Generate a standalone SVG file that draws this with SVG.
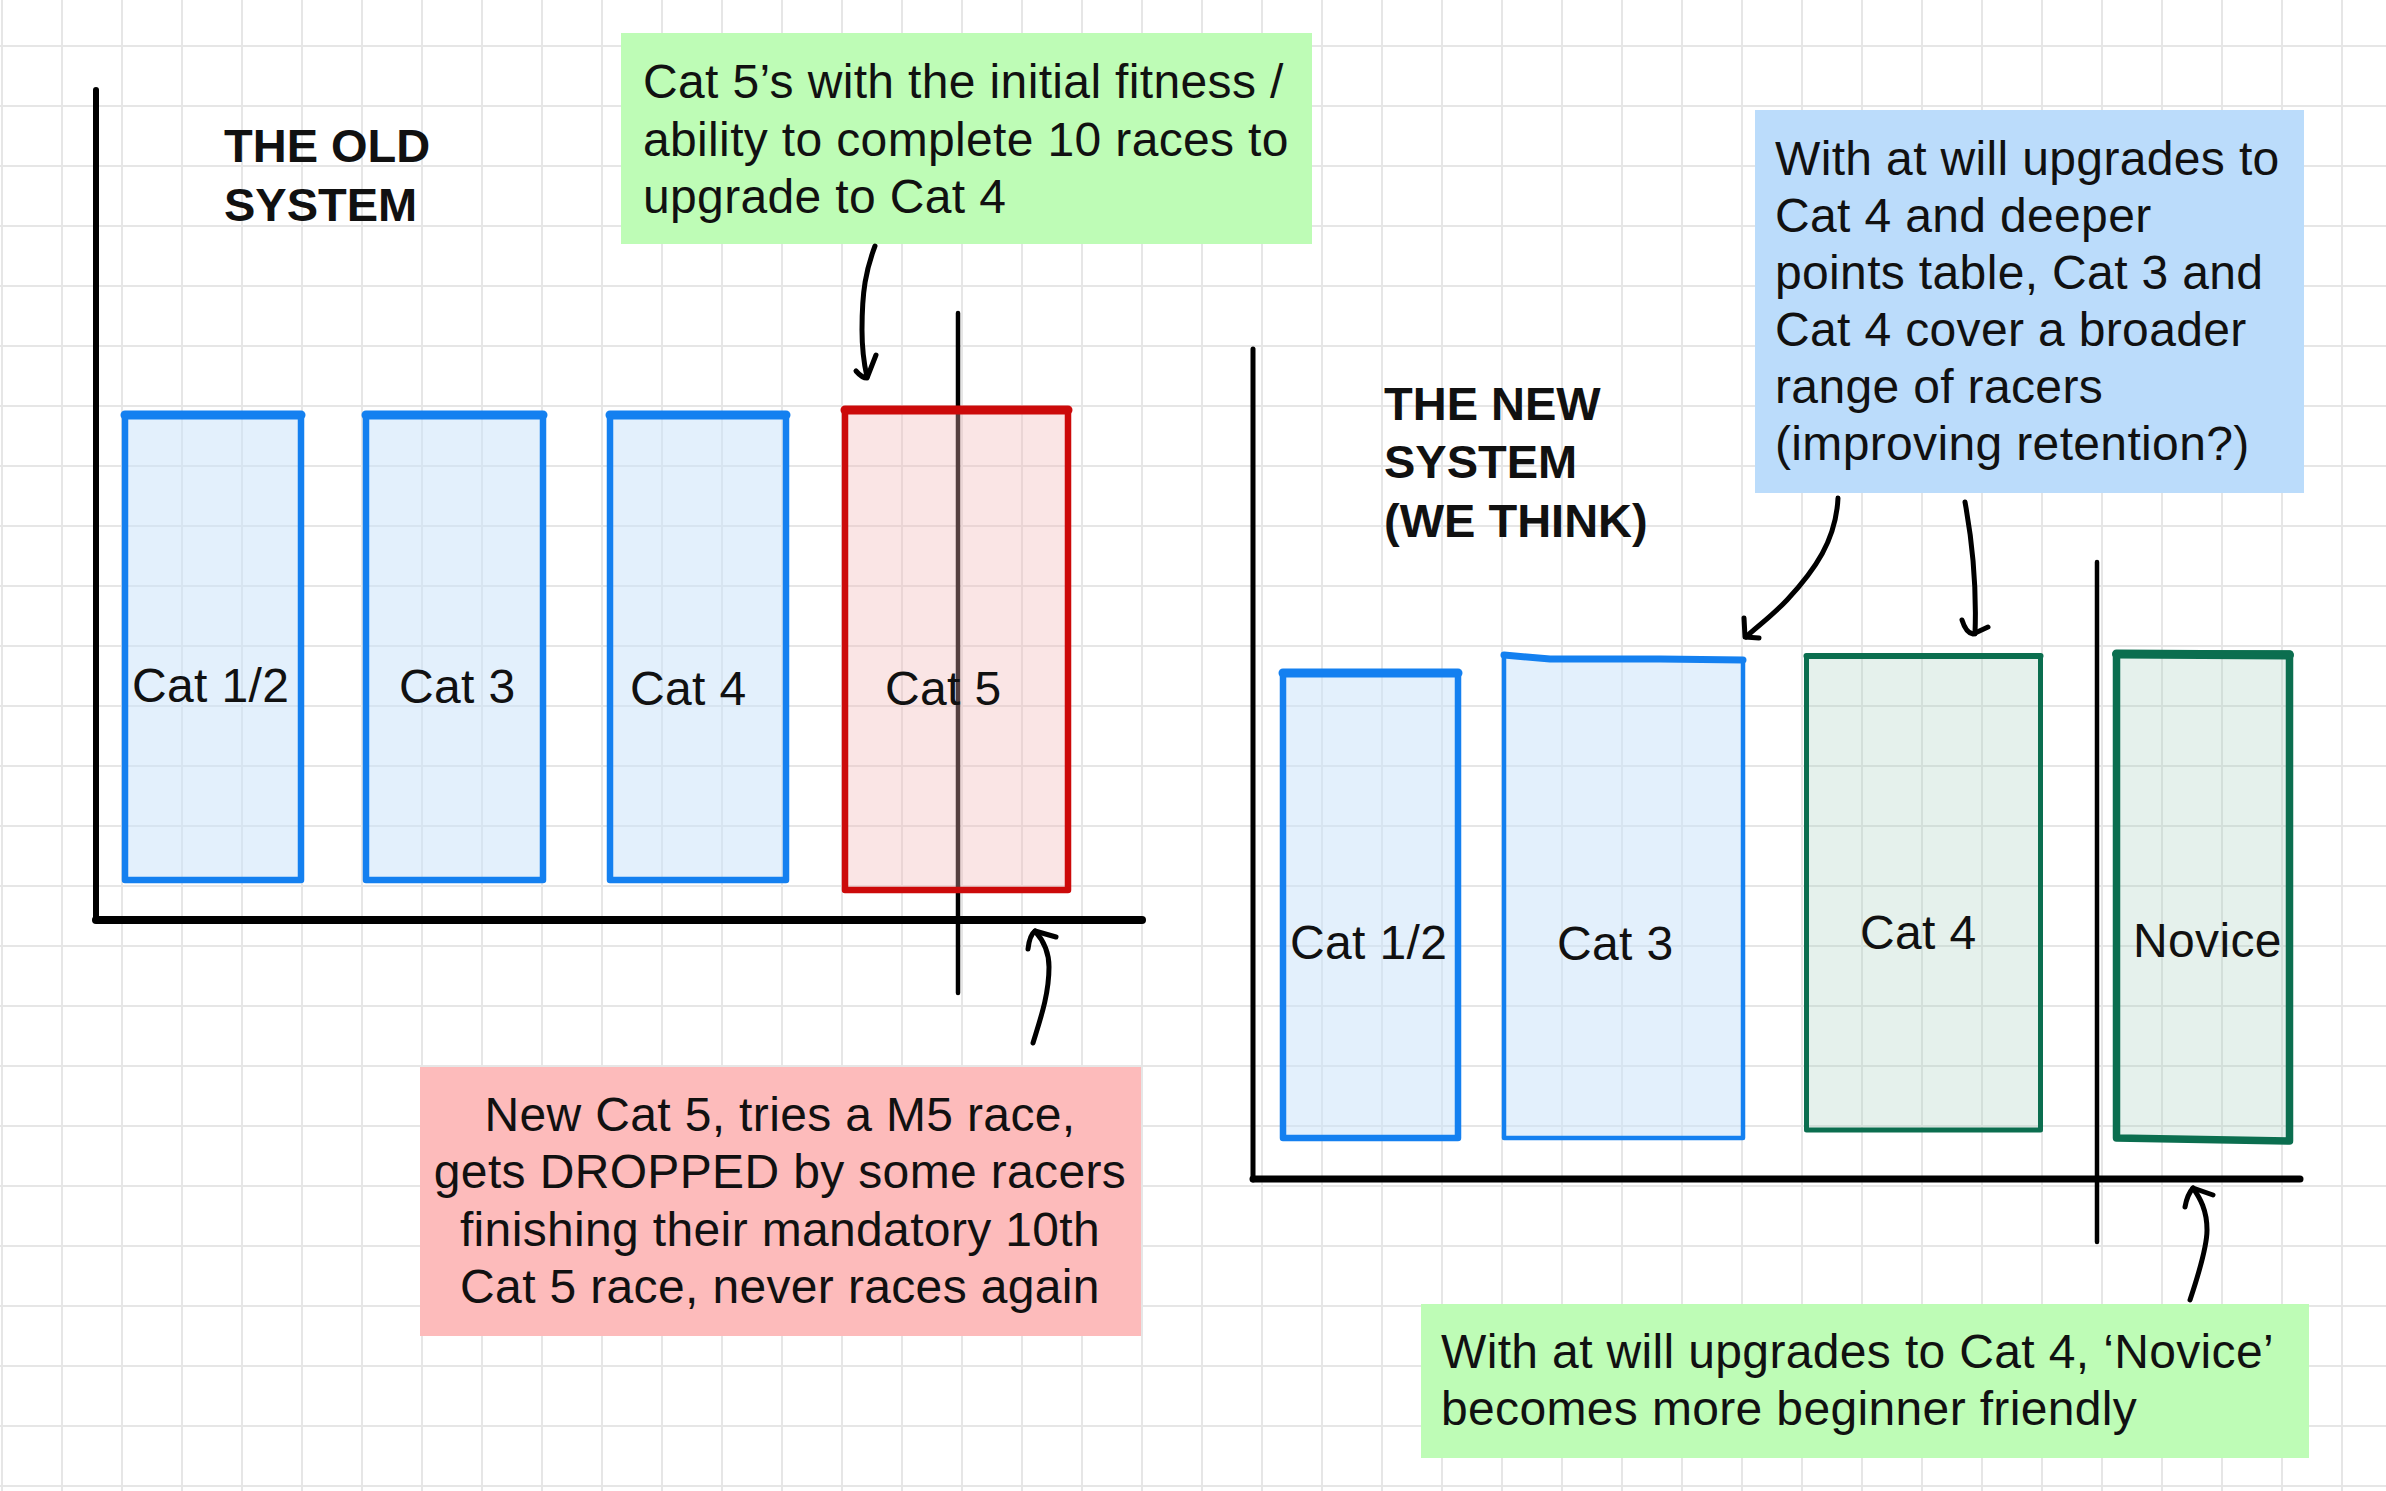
<svg xmlns="http://www.w3.org/2000/svg" width="2386" height="1491" viewBox="0 0 2386 1491">
<defs>
<pattern id="grid" x="1" y="45" width="60" height="60" patternUnits="userSpaceOnUse">
<rect x="0" y="0" width="2" height="60" fill="#e6e6e6"/>
<rect x="0" y="0" width="60" height="2" fill="#e6e6e6"/>
</pattern>
<style>
.t{font-family:"Liberation Sans",Arial,Helvetica,sans-serif;font-size:48px;fill:#111;letter-spacing:0.35px}
.h{font-family:"Liberation Sans",Arial,Helvetica,sans-serif;font-size:47px;font-weight:bold;fill:#111}
.c{text-anchor:middle}
.blue{fill:rgb(200,225,250);fill-opacity:0.5;stroke:#1480f0;stroke-width:6.5;stroke-linejoin:round}
.red{fill:rgb(240,180,180);fill-opacity:0.35;stroke:#cc0a0a;stroke-width:6.5;stroke-linejoin:round}
.green{fill:rgb(160,205,185);fill-opacity:0.28;stroke:#0b6e4f;stroke-width:5;stroke-linejoin:round}
.topb{fill:none;stroke:#1480f0;stroke-width:9;stroke-linecap:round}
.topr{fill:none;stroke:#cc0a0a;stroke-width:9;stroke-linecap:round}
.topg{fill:none;stroke:#0b6e4f;stroke-width:9;stroke-linecap:round}
.ax{fill:none;stroke:#000;stroke-linecap:round}
.arr{fill:none;stroke:#000;stroke-width:5;stroke-linecap:round;stroke-linejoin:round}
</style>
</defs>
<rect x="0" y="0" width="2386" height="1491" fill="#ffffff"/>
<rect x="0" y="0" width="2386" height="1491" fill="url(#grid)"/>

<g id="axes">
<path class="ax" d="M96,90 L96,920" style="stroke-width:6"/>
<path class="ax" d="M96,920 L1142,920" style="stroke-width:8"/>
<path class="ax" d="M958,313 L958,993" style="stroke-width:4.5"/>
<path class="ax" d="M1253,349 L1253,1180" style="stroke-width:5"/>
<path class="ax" d="M1253,1179 L2300,1179" style="stroke-width:7"/>
<path class="ax" d="M2097,562 L2097,1242" style="stroke-width:4.5"/>
</g>

<g id="title-old">
<text class="h" x="224" y="162">THE OLD</text>
<text class="h" x="224" y="221">SYSTEM</text>
</g>
<g id="title-new">
<text class="h" x="1384" y="420">THE NEW</text>
<text class="h" x="1384" y="478">SYSTEM</text>
<text class="h" x="1384" y="537">(WE THINK)</text>
</g>

<g id="old-cat12">
<rect class="blue" x="125" y="415" width="176" height="465"/>
<path class="topb" d="M125,415 L301,415"/>
<text class="t" x="132" y="702">Cat 1/2</text>
</g>
<g id="old-cat3">
<rect class="blue" x="366" y="415" width="177" height="465"/>
<path class="topb" d="M366,415 L543,415"/>
<text class="t" x="399" y="703">Cat 3</text>
</g>
<g id="old-cat4">
<rect class="blue" x="610" y="415" width="176" height="465"/>
<path class="topb" d="M610,415 L786,415"/>
<text class="t" x="630" y="705">Cat 4</text>
</g>
<g id="old-cat5">
<rect class="red" x="845" y="410" width="223" height="480"/>
<path class="topr" d="M845,410 L1068,410"/>
<text class="t" x="885" y="705">Cat 5</text>
</g>

<g id="new-cat12">
<rect class="blue" x="1283" y="673" width="175" height="465"/>
<path class="topb" d="M1283,673 L1458,673"/>
<text class="t" x="1290" y="959">Cat 1/2</text>
</g>
<g id="new-cat3">
<path class="blue" style="stroke-width:4.5" d="M1504,655 L1550,659 L1660,659 L1743,660 L1743,1138 L1504,1138 Z"/>
<path class="topb" style="stroke-width:7" d="M1504,655 L1550,659 L1660,659 L1743,660"/>
<text class="t" x="1557" y="960">Cat 3</text>
</g>
<g id="new-cat4">
<rect class="green" x="1806.5" y="656" width="234" height="474"/>
<path class="topg" style="stroke-width:6" d="M1806.5,656 L2040.5,656"/>
<text class="t" x="1860" y="949">Cat 4</text>
</g>
<g id="new-novice">
<path class="green" style="stroke-width:7.5" d="M2116.5,654 L2289.5,654 L2289.5,1141 L2116.5,1138 Z"/>
<path class="topg" d="M2116.5,654 L2289.5,655"/>
<text class="t" x="2133" y="957">Novice</text>
</g>

<g id="note-fitness">
<rect x="621" y="33" width="691" height="211" fill="#befcb6"/>
<text class="t" x="643" y="98">Cat 5’s with the initial fitness /</text>
<text class="t" x="643" y="156">ability to complete 10 races to</text>
<text class="t" x="643" y="213">upgrade to Cat 4</text>
</g>
<g id="note-dropped">
<rect x="420" y="1067" width="721" height="269" fill="#fdbbbb"/>
<text class="t c" x="780" y="1131">New Cat 5, tries a M5 race,</text>
<text class="t c" x="780" y="1188">gets DROPPED by some racers</text>
<text class="t c" x="780" y="1246">finishing their mandatory 10th</text>
<text class="t c" x="780" y="1303">Cat 5 race, never races again</text>
</g>
<g id="note-broader">
<rect x="1755" y="110" width="549" height="383" fill="#bbdcfb"/>
<text class="t" x="1775" y="175">With at will upgrades to</text>
<text class="t" x="1775" y="232">Cat 4 and deeper</text>
<text class="t" x="1775" y="289">points table, Cat 3 and</text>
<text class="t" x="1775" y="346">Cat 4 cover a broader</text>
<text class="t" x="1775" y="403">range of racers</text>
<text class="t" x="1775" y="460">(improving retention?)</text>
</g>
<g id="note-novice">
<rect x="1421" y="1304" width="888" height="154" fill="#befcb6"/>
<text class="t" x="1441" y="1368">With at will upgrades to Cat 4, ‘Novice’</text>
<text class="t" x="1441" y="1425">becomes more beginner friendly</text>
</g>

<g id="connectors">
<path class="arr" d="M875,246 C866,270 862,290 862,330 C862,355 865,368 867,377"/>
<path class="arr" d="M856,371 Q862,378 867,378 L876,355"/>
<path class="arr" d="M1033,1043 C1040,1020 1049,995 1049,967 C1049,952 1043,940 1035,931"/>
<path class="arr" d="M1028,949 C1029,940 1031,934 1035,931 L1056,937"/>
<path class="arr" d="M1838,498 C1836,540 1815,570 1787,600 C1770,618 1755,628 1746,637"/>
<path class="arr" d="M1744,618 L1745,637 L1759,638"/>
<path class="arr" d="M1965,502 C1972,540 1977,580 1975,634"/>
<path class="arr" d="M1962,620 Q1966,633 1973,634 L1988,627"/>
<path class="arr" d="M2190,1300 C2200,1270 2207,1245 2207,1230 C2207,1210 2200,1198 2193,1188"/>
<path class="arr" d="M2185,1207 Q2187,1195 2193,1188 L2213,1195"/>
</g>
</svg>
